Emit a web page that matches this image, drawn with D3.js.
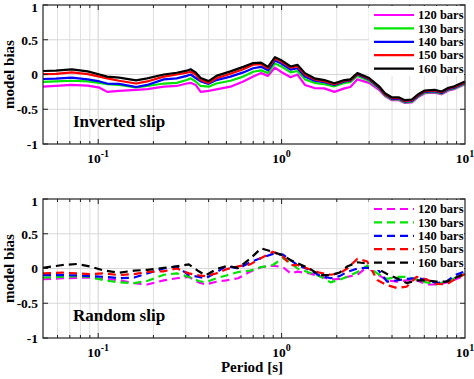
<!DOCTYPE html>
<html><head><meta charset="utf-8">
<script src="https://cdn.jsdelivr.net/npm/d3@7"></script>
<style>
body{margin:0;background:#fff;}
text{font-family:"Liberation Serif","Times New Roman",serif;font-weight:bold;fill:#000;}
</style>
</head><body>
<svg id="c" width="474" height="379"></svg>
<script>
// ---------- data ----------
const seriesNames = ["120 bars","130 bars","140 bars","150 bars","160 bars"];
const yTickValues = [-1,-0.5,0,0.5,1];
const xLabelValues = [0.1,1,10];
const xLabelExps = ["-1","0","1"];
const panelTitles = ["Inverted slip","Random slip"];

const periodsTop = [0.050,0.0588,0.0717,0.0876,0.1017,0.112,0.130,0.161,0.185,0.228,0.268,0.304,0.319,0.340,0.362,0.400,0.441,0.526,0.618,0.700,0.773,0.843,0.920,0.990,1.12,1.22,1.34,1.51,1.71,1.94,2.20,2.37,2.59,3.00,3.40,3.66,4.00,4.37,4.70,5.13,5.59,6.03,6.83,7.45,8.13,8.75,10.0];
const inv120 = [-0.175,-0.165,-0.15,-0.16,-0.19,-0.25,-0.235,-0.22,-0.21,-0.175,-0.165,-0.13,-0.12,-0.15,-0.25,-0.235,-0.215,-0.175,-0.10,-0.03,0.02,-0.02,0.10,0.04,-0.04,0.0,-0.15,-0.195,-0.20,-0.25,-0.20,-0.18,-0.07,-0.12,-0.22,-0.31,-0.37,-0.37,-0.41,-0.40,-0.32,-0.27,-0.26,-0.285,-0.23,-0.21,-0.14];
const inv130 = [-0.105,-0.10,-0.09,-0.10,-0.12,-0.14,-0.15,-0.185,-0.165,-0.13,-0.12,-0.08,-0.055,-0.10,-0.165,-0.175,-0.13,-0.09,-0.03,0.04,0.06,0.02,0.16,0.12,0.03,0.05,-0.07,-0.12,-0.14,-0.17,-0.12,-0.11,-0.02,-0.09,-0.20,-0.30,-0.36,-0.36,-0.40,-0.39,-0.31,-0.26,-0.25,-0.275,-0.22,-0.20,-0.13];
const inv140 = [-0.065,-0.06,-0.045,-0.07,-0.10,-0.13,-0.135,-0.18,-0.15,-0.07,-0.055,-0.02,0.0,-0.05,-0.10,-0.135,-0.08,-0.03,0.03,0.09,0.11,0.06,0.20,0.16,0.07,0.09,-0.03,-0.09,-0.11,-0.15,-0.10,-0.09,0.0,-0.07,-0.19,-0.29,-0.35,-0.35,-0.39,-0.38,-0.30,-0.25,-0.24,-0.265,-0.21,-0.19,-0.12];
const inv150 = [0.005,0.01,0.03,0.005,-0.03,-0.055,-0.09,-0.13,-0.10,-0.03,0.0,0.025,0.04,0.0,-0.08,-0.12,-0.055,0.01,0.075,0.14,0.15,0.09,0.23,0.19,0.10,0.12,0.0,-0.07,-0.095,-0.14,-0.09,-0.08,0.01,-0.06,-0.18,-0.28,-0.34,-0.34,-0.38,-0.37,-0.29,-0.24,-0.23,-0.255,-0.20,-0.18,-0.11];
const inv160 = [0.05,0.055,0.075,0.045,0.0,-0.03,-0.045,-0.085,-0.055,0.0,0.025,0.055,0.075,0.03,-0.05,-0.095,-0.02,0.045,0.11,0.165,0.17,0.11,0.25,0.21,0.115,0.14,0.02,-0.055,-0.08,-0.125,-0.08,-0.07,0.02,-0.05,-0.17,-0.27,-0.33,-0.33,-0.37,-0.36,-0.28,-0.23,-0.22,-0.245,-0.19,-0.17,-0.10];

const periodsBot = [0.050,0.064,0.0764,0.0898,0.108,0.130,0.157,0.185,0.228,0.268,0.312,0.353,0.385,0.441,0.500,0.580,0.674,0.773,0.897,1.017,1.12,1.22,1.42,1.61,1.85,2.07,2.28,2.59,2.93,3.32,3.76,4.25,4.82,5.45,6.18,7.00,7.92,8.75,10.0];
const rnd120 = [-0.155,-0.14,-0.135,-0.13,-0.15,-0.17,-0.21,-0.23,-0.17,-0.14,-0.12,-0.20,-0.23,-0.19,-0.17,-0.14,-0.045,0.02,0.04,0.02,-0.07,-0.045,-0.07,-0.11,-0.16,-0.15,-0.12,-0.09,0.02,-0.08,-0.17,-0.19,-0.17,-0.17,-0.23,-0.23,-0.20,-0.16,-0.10];
const rnd130 = [-0.13,-0.12,-0.11,-0.12,-0.17,-0.20,-0.21,-0.18,-0.09,-0.07,-0.12,-0.18,-0.20,-0.14,-0.10,-0.05,-0.03,0.02,0.05,0.15,0.08,0.0,-0.06,-0.11,-0.20,-0.16,-0.12,-0.05,0.04,-0.07,-0.15,-0.12,-0.12,-0.16,-0.20,-0.23,-0.18,-0.14,-0.08];
const rnd140 = [-0.095,-0.095,-0.10,-0.11,-0.12,-0.14,-0.13,-0.07,0.0,0.03,-0.095,-0.12,-0.14,-0.055,0.035,0.0,0.09,0.15,0.21,0.20,0.12,0.05,-0.02,-0.10,-0.14,-0.11,-0.05,0.0,0.01,0.0,-0.19,-0.17,-0.15,-0.14,-0.16,-0.21,-0.19,-0.10,-0.04];
const rnd150 = [-0.07,-0.06,-0.07,-0.08,-0.07,-0.095,-0.08,-0.05,-0.04,0.0,-0.07,-0.10,-0.11,-0.07,-0.01,0.03,0.06,0.15,0.24,0.17,0.05,0.05,-0.01,-0.06,-0.09,-0.07,0.0,0.14,0.10,-0.165,-0.24,-0.28,-0.26,-0.12,-0.16,-0.22,-0.23,-0.16,-0.08];
const rnd160 = [0.01,0.05,0.065,0.03,-0.03,-0.06,-0.03,-0.02,0.01,0.03,0.06,-0.04,-0.10,-0.01,0.035,0.01,0.14,0.29,0.24,0.19,0.12,0.075,0.0,-0.095,-0.095,-0.06,0.03,0.09,0.07,0.0,-0.08,-0.14,-0.21,-0.17,-0.17,-0.19,-0.19,-0.14,-0.07];

// ---------- styles ----------
const colors = ["#ff00ff","#00e600","#0000ff","#ff0000","#000000"];
const L = 43, R = 465;
const svg = d3.select("#c");

const x = d3.scaleLog().domain([0.05,10]).range([L,R]);
const gridVals = x.ticks().filter(v => v > 0.0501 && v < 9.99);
const isMajor = v => Math.abs(Math.log10(v) - Math.round(Math.log10(v))) < 1e-6;

function panel(top, bottom, periods, series, dashed, title){
  const y = d3.scaleLinear().domain([-1,1]).range([bottom, top]);
  const g = svg.append("g");
  // grid
  g.selectAll(".vg").data(gridVals).join("line")
    .attr("x1", d => x(d)).attr("x2", d => x(d))
    .attr("y1", top).attr("y2", bottom)
    .attr("stroke", d => isMajor(d) ? "#d0d0d0" : "#e0e0e0")
    .attr("stroke-width", 1);
  g.selectAll(".hg").data([-0.5,0,0.5]).join("line")
    .attr("x1", L).attr("x2", R)
    .attr("y1", d => y(d)).attr("y2", d => y(d))
    .attr("stroke", "#d8d8d8").attr("stroke-width", 1);

  // lines
  const line = d3.line().x(d => x(d[0])).y(d => y(d[1]));
  series.forEach((s, i) => {
    g.append("path")
      .datum(periods.map((p, k) => [p, s[k]]))
      .attr("d", line)
      .attr("fill", "none")
      .attr("stroke", colors[i])
      .attr("stroke-width", 2.2)
      .attr("stroke-dasharray", dashed ? "8,5" : null)
      .attr("stroke-linejoin", "round");
  });

  // ticks (inward) on all sides
  const tg = g.append("g");
  gridVals.forEach(v => {
    const len = isMajor(v) ? 5 : 3;
    tg.append("line").attr("x1", x(v)).attr("x2", x(v)).attr("y1", bottom).attr("y2", bottom - len).attr("stroke", "#222");
    tg.append("line").attr("x1", x(v)).attr("x2", x(v)).attr("y1", top).attr("y2", top + len).attr("stroke", "#222");
  });
  yTickValues.forEach(v => {
    tg.append("line").attr("x1", L).attr("x2", L + 5).attr("y1", y(v)).attr("y2", y(v)).attr("stroke", "#222");
    tg.append("line").attr("x1", R).attr("x2", R - 5).attr("y1", y(v)).attr("y2", y(v)).attr("stroke", "#222");
  });

  // y axis labels
  const ya = d3.axisLeft(y).tickValues(yTickValues).tickSize(0).tickPadding(5).tickFormat(d => String(d));
  const yg = g.append("g").attr("transform", `translate(${L},0)`).call(ya);
  yg.select(".domain").remove();
  yg.selectAll("text")
    .style("font-family", '"Liberation Serif",serif').style("font-weight", "bold").style("font-size", "13.5px")
    .attr("dy", d => d === 1 ? "0.45em" : "0.32em");

  // x labels
  xLabelValues.forEach((v, i) => {
    const t = g.append("text").attr("x", x(v)).attr("y", bottom + 19).attr("text-anchor", "middle").style("font-size", "13.5px");
    t.append("tspan").text("10");
    t.append("tspan").attr("dy", -6).style("font-size", "10px").text(xLabelExps[i]);
  });

  // frame
  g.append("rect").attr("x", L).attr("y", top).attr("width", R - L).attr("height", bottom - top)
    .attr("fill", "none").attr("stroke", "#222").attr("stroke-width", 1.2);

  // title in panel
  g.append("text").attr("x", 73).attr("y", y(-0.75)).style("font-size", "17px").text(title);

  // y label
  g.append("text").attr("transform", `translate(14,${(top + bottom) / 2}) rotate(-90)`)
    .attr("text-anchor", "middle").style("font-size", "15px").text("model bias");

  // legend
  const lg = g.append("g");
  lg.append("rect").attr("x", 369).attr("y", top + 1).attr("width", R - 369 - 1).attr("height", 70).attr("fill", "#fff");
  seriesNames.forEach((n, i) => {
    const yy = top + 10 + i * 13.4;
    lg.append("line").attr("x1", 374).attr("x2", 414).attr("y1", yy).attr("y2", yy)
      .attr("stroke", colors[i]).attr("stroke-width", 2.2)
      .attr("stroke-dasharray", dashed ? "8,5" : null);
    lg.append("text").attr("x", 418).attr("y", yy + 4.2).style("font-size", "12.5px").text(n);
  });
}

panel(5, 144, periodsTop, [inv120, inv130, inv140, inv150, inv160], false, panelTitles[0]);
panel(199, 338, periodsBot, [rnd120, rnd130, rnd140, rnd150, rnd160], true, panelTitles[1]);

svg.append("text").attr("x", 252).attr("y", 372).attr("text-anchor", "middle").style("font-size", "15px").text("Period [s]");
</script>
</body></html>
